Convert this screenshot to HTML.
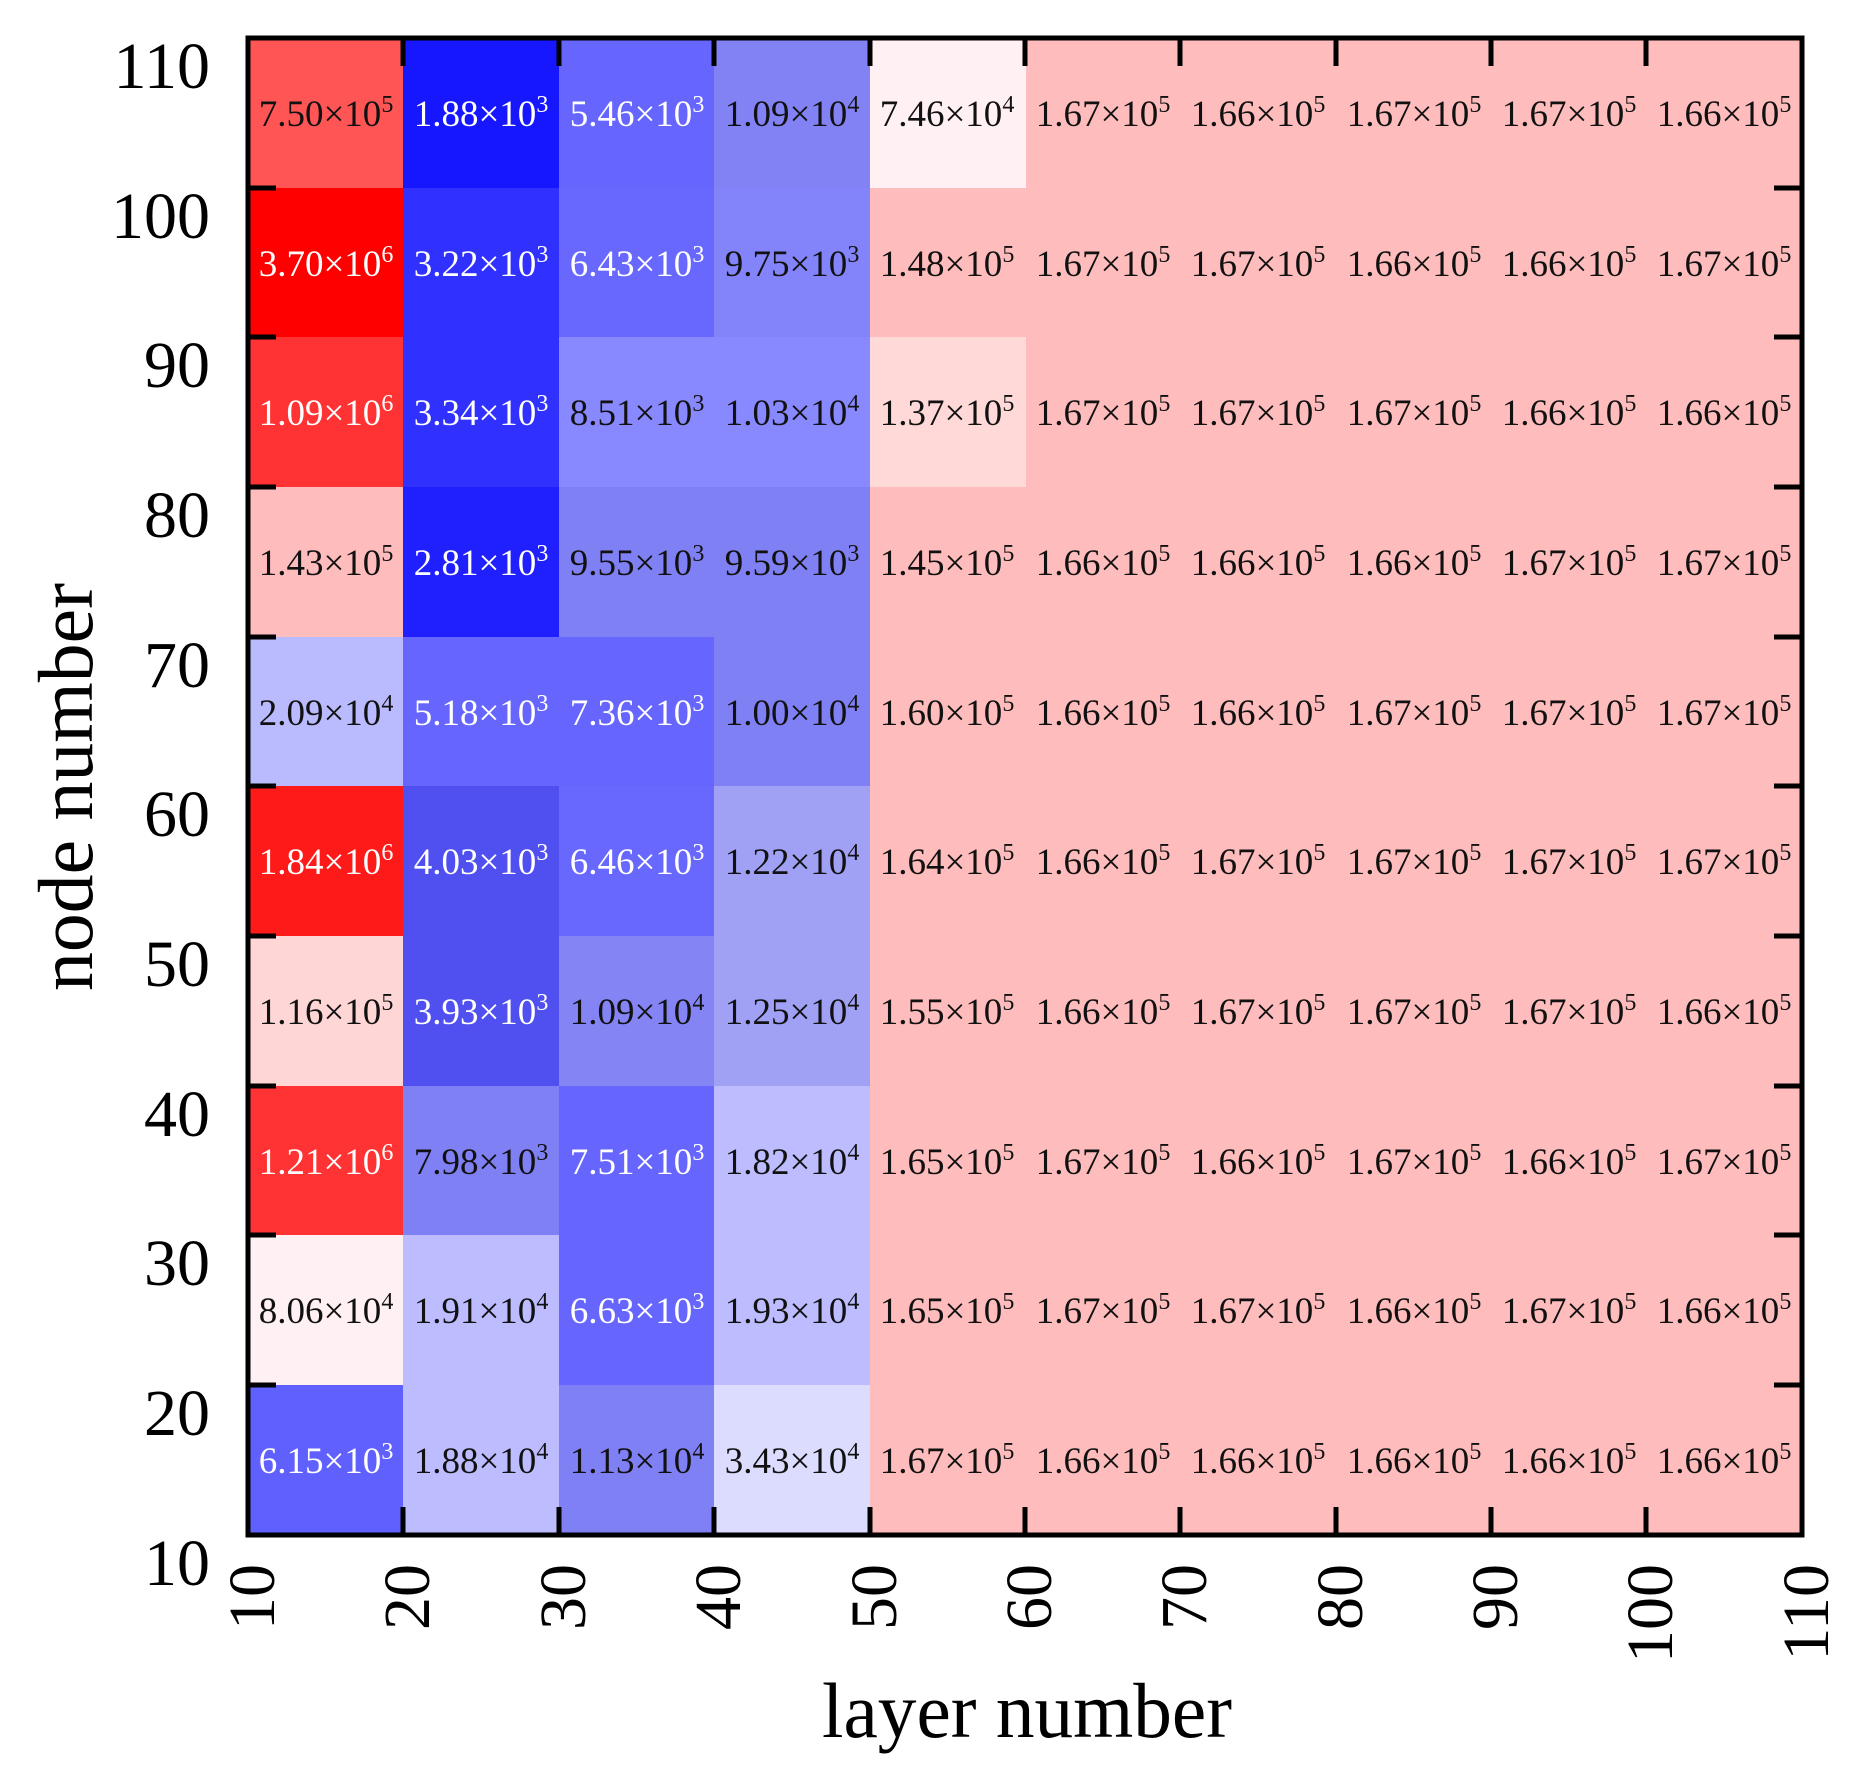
<!DOCTYPE html>
<html><head><meta charset="utf-8"><style>
html,body{margin:0;padding:0;background:#fff;}
svg{display:block;}
.c{font-family:"Liberation Serif",serif;font-size:37px;text-anchor:middle;fill:#111;}
.w{fill:#fff;}
.t{font-family:"Liberation Serif",serif;font-size:66px;fill:#000;}
</style></head><body>
<svg width="1866" height="1792" viewBox="0 0 1866 1792" xmlns="http://www.w3.org/2000/svg">
<rect x="248" y="38" width="1554" height="1497" fill="#ffbcbc"/>
<g shape-rendering="crispEdges">
<!-- row 0 -->
<rect x="248" y="38" width="156" height="150" fill="#ff5555"/>
<rect x="403" y="38" width="156" height="150" fill="#1616ff"/>
<rect x="559" y="38" width="156" height="150" fill="#6666ff"/>
<rect x="714" y="38" width="156" height="150" fill="#8282f5"/>
<rect x="870" y="38" width="156" height="150" fill="#fff0f4"/>
<!-- row 1 -->
<rect x="248" y="188" width="156" height="150" fill="#ff0000"/>
<rect x="403" y="188" width="156" height="150" fill="#3030ff"/>
<rect x="559" y="188" width="156" height="150" fill="#6868ff"/>
<rect x="714" y="188" width="156" height="150" fill="#8484fa"/>
<!-- row 2 -->
<rect x="248" y="337" width="156" height="150" fill="#ff3333"/>
<rect x="403" y="337" width="156" height="150" fill="#3030ff"/>
<rect x="559" y="337" width="156" height="150" fill="#8888ff"/>
<rect x="714" y="337" width="156" height="150" fill="#8888ff"/>
<rect x="870" y="337" width="156" height="150" fill="#ffd8d8"/>
<!-- row 3 -->
<rect x="403" y="487" width="156" height="150" fill="#2020ff"/>
<rect x="559" y="487" width="156" height="150" fill="#8080f5"/>
<rect x="714" y="487" width="156" height="150" fill="#8080f5"/>
<!-- row 4 -->
<rect x="248" y="637" width="156" height="150" fill="#babaff"/>
<rect x="403" y="637" width="156" height="150" fill="#6666ff"/>
<rect x="559" y="637" width="156" height="150" fill="#6666ff"/>
<rect x="714" y="637" width="156" height="150" fill="#8080f5"/>
<!-- row 5 -->
<rect x="248" y="786" width="156" height="150" fill="#ff1a1a"/>
<rect x="403" y="786" width="156" height="150" fill="#5050f0"/>
<rect x="559" y="786" width="156" height="150" fill="#6868ff"/>
<rect x="714" y="786" width="156" height="150" fill="#a0a0f5"/>
<!-- row 6 -->
<rect x="248" y="936" width="156" height="150" fill="#ffd6d6"/>
<rect x="403" y="936" width="156" height="150" fill="#5050f0"/>
<rect x="559" y="936" width="156" height="150" fill="#8484f5"/>
<rect x="714" y="936" width="156" height="150" fill="#a0a0f5"/>
<!-- row 7 -->
<rect x="248" y="1086" width="156" height="150" fill="#ff3333"/>
<rect x="403" y="1086" width="156" height="150" fill="#8080f5"/>
<rect x="559" y="1086" width="156" height="150" fill="#6666ff"/>
<rect x="714" y="1086" width="156" height="150" fill="#bcbcff"/>
<!-- row 8 -->
<rect x="248" y="1235" width="156" height="150" fill="#fff0f4"/>
<rect x="403" y="1235" width="156" height="150" fill="#bcbcff"/>
<rect x="559" y="1235" width="156" height="150" fill="#6666ff"/>
<rect x="714" y="1235" width="156" height="150" fill="#bcbcff"/>
<!-- row 9 -->
<rect x="248" y="1385" width="156" height="150" fill="#6060ff"/>
<rect x="403" y="1385" width="156" height="150" fill="#bcbcff"/>
<rect x="559" y="1385" width="156" height="150" fill="#8080f5"/>
<rect x="714" y="1385" width="156" height="150" fill="#dcdcff"/>
</g>

<g class="c">
<!-- row 0 y=126 -->
<text x="326" y="126">7.50×10<tspan dy="-14" font-size="24">5</tspan></text>
<text class="w" x="481" y="126">1.88×10<tspan dy="-14" font-size="24">3</tspan></text>
<text class="w" x="637" y="126">5.46×10<tspan dy="-14" font-size="24">3</tspan></text>
<text x="792" y="126">1.09×10<tspan dy="-14" font-size="24">4</tspan></text>
<text x="947" y="126">7.46×10<tspan dy="-14" font-size="24">4</tspan></text>
<text x="1103" y="126">1.67×10<tspan dy="-14" font-size="24">5</tspan></text>
<text x="1258" y="126">1.66×10<tspan dy="-14" font-size="24">5</tspan></text>
<text x="1414" y="126">1.67×10<tspan dy="-14" font-size="24">5</tspan></text>
<text x="1569" y="126">1.67×10<tspan dy="-14" font-size="24">5</tspan></text>
<text x="1724" y="126">1.66×10<tspan dy="-14" font-size="24">5</tspan></text>
<!-- row 1 y=276 -->
<text class="w" x="326" y="276">3.70×10<tspan dy="-14" font-size="24">6</tspan></text>
<text class="w" x="481" y="276">3.22×10<tspan dy="-14" font-size="24">3</tspan></text>
<text class="w" x="637" y="276">6.43×10<tspan dy="-14" font-size="24">3</tspan></text>
<text x="792" y="276">9.75×10<tspan dy="-14" font-size="24">3</tspan></text>
<text x="947" y="276">1.48×10<tspan dy="-14" font-size="24">5</tspan></text>
<text x="1103" y="276">1.67×10<tspan dy="-14" font-size="24">5</tspan></text>
<text x="1258" y="276">1.67×10<tspan dy="-14" font-size="24">5</tspan></text>
<text x="1414" y="276">1.66×10<tspan dy="-14" font-size="24">5</tspan></text>
<text x="1569" y="276">1.66×10<tspan dy="-14" font-size="24">5</tspan></text>
<text x="1724" y="276">1.67×10<tspan dy="-14" font-size="24">5</tspan></text>
<!-- row 2 y=425 -->
<text class="w" x="326" y="425">1.09×10<tspan dy="-14" font-size="24">6</tspan></text>
<text class="w" x="481" y="425">3.34×10<tspan dy="-14" font-size="24">3</tspan></text>
<text x="637" y="425">8.51×10<tspan dy="-14" font-size="24">3</tspan></text>
<text x="792" y="425">1.03×10<tspan dy="-14" font-size="24">4</tspan></text>
<text x="947" y="425">1.37×10<tspan dy="-14" font-size="24">5</tspan></text>
<text x="1103" y="425">1.67×10<tspan dy="-14" font-size="24">5</tspan></text>
<text x="1258" y="425">1.67×10<tspan dy="-14" font-size="24">5</tspan></text>
<text x="1414" y="425">1.67×10<tspan dy="-14" font-size="24">5</tspan></text>
<text x="1569" y="425">1.66×10<tspan dy="-14" font-size="24">5</tspan></text>
<text x="1724" y="425">1.66×10<tspan dy="-14" font-size="24">5</tspan></text>
<!-- row 3 y=575 -->
<text x="326" y="575">1.43×10<tspan dy="-14" font-size="24">5</tspan></text>
<text class="w" x="481" y="575">2.81×10<tspan dy="-14" font-size="24">3</tspan></text>
<text x="637" y="575">9.55×10<tspan dy="-14" font-size="24">3</tspan></text>
<text x="792" y="575">9.59×10<tspan dy="-14" font-size="24">3</tspan></text>
<text x="947" y="575">1.45×10<tspan dy="-14" font-size="24">5</tspan></text>
<text x="1103" y="575">1.66×10<tspan dy="-14" font-size="24">5</tspan></text>
<text x="1258" y="575">1.66×10<tspan dy="-14" font-size="24">5</tspan></text>
<text x="1414" y="575">1.66×10<tspan dy="-14" font-size="24">5</tspan></text>
<text x="1569" y="575">1.67×10<tspan dy="-14" font-size="24">5</tspan></text>
<text x="1724" y="575">1.67×10<tspan dy="-14" font-size="24">5</tspan></text>
<!-- row 4 y=725 -->
<text x="326" y="725">2.09×10<tspan dy="-14" font-size="24">4</tspan></text>
<text class="w" x="481" y="725">5.18×10<tspan dy="-14" font-size="24">3</tspan></text>
<text class="w" x="637" y="725">7.36×10<tspan dy="-14" font-size="24">3</tspan></text>
<text x="792" y="725">1.00×10<tspan dy="-14" font-size="24">4</tspan></text>
<text x="947" y="725">1.60×10<tspan dy="-14" font-size="24">5</tspan></text>
<text x="1103" y="725">1.66×10<tspan dy="-14" font-size="24">5</tspan></text>
<text x="1258" y="725">1.66×10<tspan dy="-14" font-size="24">5</tspan></text>
<text x="1414" y="725">1.67×10<tspan dy="-14" font-size="24">5</tspan></text>
<text x="1569" y="725">1.67×10<tspan dy="-14" font-size="24">5</tspan></text>
<text x="1724" y="725">1.67×10<tspan dy="-14" font-size="24">5</tspan></text>
<!-- row 5 y=874 -->
<text class="w" x="326" y="874">1.84×10<tspan dy="-14" font-size="24">6</tspan></text>
<text class="w" x="481" y="874">4.03×10<tspan dy="-14" font-size="24">3</tspan></text>
<text class="w" x="637" y="874">6.46×10<tspan dy="-14" font-size="24">3</tspan></text>
<text x="792" y="874">1.22×10<tspan dy="-14" font-size="24">4</tspan></text>
<text x="947" y="874">1.64×10<tspan dy="-14" font-size="24">5</tspan></text>
<text x="1103" y="874">1.66×10<tspan dy="-14" font-size="24">5</tspan></text>
<text x="1258" y="874">1.67×10<tspan dy="-14" font-size="24">5</tspan></text>
<text x="1414" y="874">1.67×10<tspan dy="-14" font-size="24">5</tspan></text>
<text x="1569" y="874">1.67×10<tspan dy="-14" font-size="24">5</tspan></text>
<text x="1724" y="874">1.67×10<tspan dy="-14" font-size="24">5</tspan></text>
<!-- row 6 y=1024 -->
<text x="326" y="1024">1.16×10<tspan dy="-14" font-size="24">5</tspan></text>
<text class="w" x="481" y="1024">3.93×10<tspan dy="-14" font-size="24">3</tspan></text>
<text x="637" y="1024">1.09×10<tspan dy="-14" font-size="24">4</tspan></text>
<text x="792" y="1024">1.25×10<tspan dy="-14" font-size="24">4</tspan></text>
<text x="947" y="1024">1.55×10<tspan dy="-14" font-size="24">5</tspan></text>
<text x="1103" y="1024">1.66×10<tspan dy="-14" font-size="24">5</tspan></text>
<text x="1258" y="1024">1.67×10<tspan dy="-14" font-size="24">5</tspan></text>
<text x="1414" y="1024">1.67×10<tspan dy="-14" font-size="24">5</tspan></text>
<text x="1569" y="1024">1.67×10<tspan dy="-14" font-size="24">5</tspan></text>
<text x="1724" y="1024">1.66×10<tspan dy="-14" font-size="24">5</tspan></text>
<!-- row 7 y=1174 -->
<text class="w" x="326" y="1174">1.21×10<tspan dy="-14" font-size="24">6</tspan></text>
<text x="481" y="1174">7.98×10<tspan dy="-14" font-size="24">3</tspan></text>
<text class="w" x="637" y="1174">7.51×10<tspan dy="-14" font-size="24">3</tspan></text>
<text x="792" y="1174">1.82×10<tspan dy="-14" font-size="24">4</tspan></text>
<text x="947" y="1174">1.65×10<tspan dy="-14" font-size="24">5</tspan></text>
<text x="1103" y="1174">1.67×10<tspan dy="-14" font-size="24">5</tspan></text>
<text x="1258" y="1174">1.66×10<tspan dy="-14" font-size="24">5</tspan></text>
<text x="1414" y="1174">1.67×10<tspan dy="-14" font-size="24">5</tspan></text>
<text x="1569" y="1174">1.66×10<tspan dy="-14" font-size="24">5</tspan></text>
<text x="1724" y="1174">1.67×10<tspan dy="-14" font-size="24">5</tspan></text>
<!-- row 8 y=1323 -->
<text x="326" y="1323">8.06×10<tspan dy="-14" font-size="24">4</tspan></text>
<text x="481" y="1323">1.91×10<tspan dy="-14" font-size="24">4</tspan></text>
<text class="w" x="637" y="1323">6.63×10<tspan dy="-14" font-size="24">3</tspan></text>
<text x="792" y="1323">1.93×10<tspan dy="-14" font-size="24">4</tspan></text>
<text x="947" y="1323">1.65×10<tspan dy="-14" font-size="24">5</tspan></text>
<text x="1103" y="1323">1.67×10<tspan dy="-14" font-size="24">5</tspan></text>
<text x="1258" y="1323">1.67×10<tspan dy="-14" font-size="24">5</tspan></text>
<text x="1414" y="1323">1.66×10<tspan dy="-14" font-size="24">5</tspan></text>
<text x="1569" y="1323">1.67×10<tspan dy="-14" font-size="24">5</tspan></text>
<text x="1724" y="1323">1.66×10<tspan dy="-14" font-size="24">5</tspan></text>
<!-- row 9 y=1473 -->
<text class="w" x="326" y="1473">6.15×10<tspan dy="-14" font-size="24">3</tspan></text>
<text x="481" y="1473">1.88×10<tspan dy="-14" font-size="24">4</tspan></text>
<text x="637" y="1473">1.13×10<tspan dy="-14" font-size="24">4</tspan></text>
<text x="792" y="1473">3.43×10<tspan dy="-14" font-size="24">4</tspan></text>
<text x="947" y="1473">1.67×10<tspan dy="-14" font-size="24">5</tspan></text>
<text x="1103" y="1473">1.66×10<tspan dy="-14" font-size="24">5</tspan></text>
<text x="1258" y="1473">1.66×10<tspan dy="-14" font-size="24">5</tspan></text>
<text x="1414" y="1473">1.66×10<tspan dy="-14" font-size="24">5</tspan></text>
<text x="1569" y="1473">1.66×10<tspan dy="-14" font-size="24">5</tspan></text>
<text x="1724" y="1473">1.66×10<tspan dy="-14" font-size="24">5</tspan></text>
</g>

<!-- ticks -->
<g stroke="#000" stroke-width="5">
<path d="M403 38v28M559 38v28M714 38v28M870 38v28M1025 38v28M1180 38v28M1336 38v28M1491 38v28M1646 38v28
M403 1535v-28M559 1535v-28M714 1535v-28M870 1535v-28M1025 1535v-28M1180 1535v-28M1336 1535v-28M1491 1535v-28M1646 1535v-28
M248 188h28M248 337h28M248 487h28M248 637h28M248 786h28M248 936h28M248 1086h28M248 1235h28M248 1385h28
M1802 188h-28M1802 337h-28M1802 487h-28M1802 637h-28M1802 786h-28M1802 936h-28M1802 1086h-28M1802 1235h-28M1802 1385h-28"/>
</g>
<rect x="248" y="38" width="1554" height="1497" fill="none" stroke="#000" stroke-width="5"/>

<!-- y tick labels -->
<g class="t" text-anchor="end">
<text x="210" y="88">110</text>
<text x="210" y="238">100</text>
<text x="210" y="387">90</text>
<text x="210" y="537">80</text>
<text x="210" y="687">70</text>
<text x="210" y="836">60</text>
<text x="210" y="986">50</text>
<text x="210" y="1136">40</text>
<text x="210" y="1285">30</text>
<text x="210" y="1435">20</text>
<text x="210" y="1585">10</text>
</g>
<!-- x tick labels -->
<g class="t" text-anchor="end">
<text transform="translate(274,1564) rotate(-90)">10</text>
<text transform="translate(429,1564) rotate(-90)">20</text>
<text transform="translate(585,1564) rotate(-90)">30</text>
<text transform="translate(740,1564) rotate(-90)">40</text>
<text transform="translate(896,1564) rotate(-90)">50</text>
<text transform="translate(1051,1564) rotate(-90)">60</text>
<text transform="translate(1206,1564) rotate(-90)">70</text>
<text transform="translate(1362,1564) rotate(-90)">80</text>
<text transform="translate(1517,1564) rotate(-90)">90</text>
<text transform="translate(1672,1564) rotate(-90)">100</text>
<text transform="translate(1828,1564) rotate(-90)">110</text>
</g>
<!-- axis titles -->
<text x="1027" y="1737" text-anchor="middle" font-family="Liberation Serif, serif" font-size="78" textLength="410" lengthAdjust="spacingAndGlyphs">layer number</text>
<text transform="translate(92,787) rotate(-90)" text-anchor="middle" font-family="Liberation Serif, serif" font-size="78" textLength="408" lengthAdjust="spacingAndGlyphs">node number</text>
</svg>
</body></html>
